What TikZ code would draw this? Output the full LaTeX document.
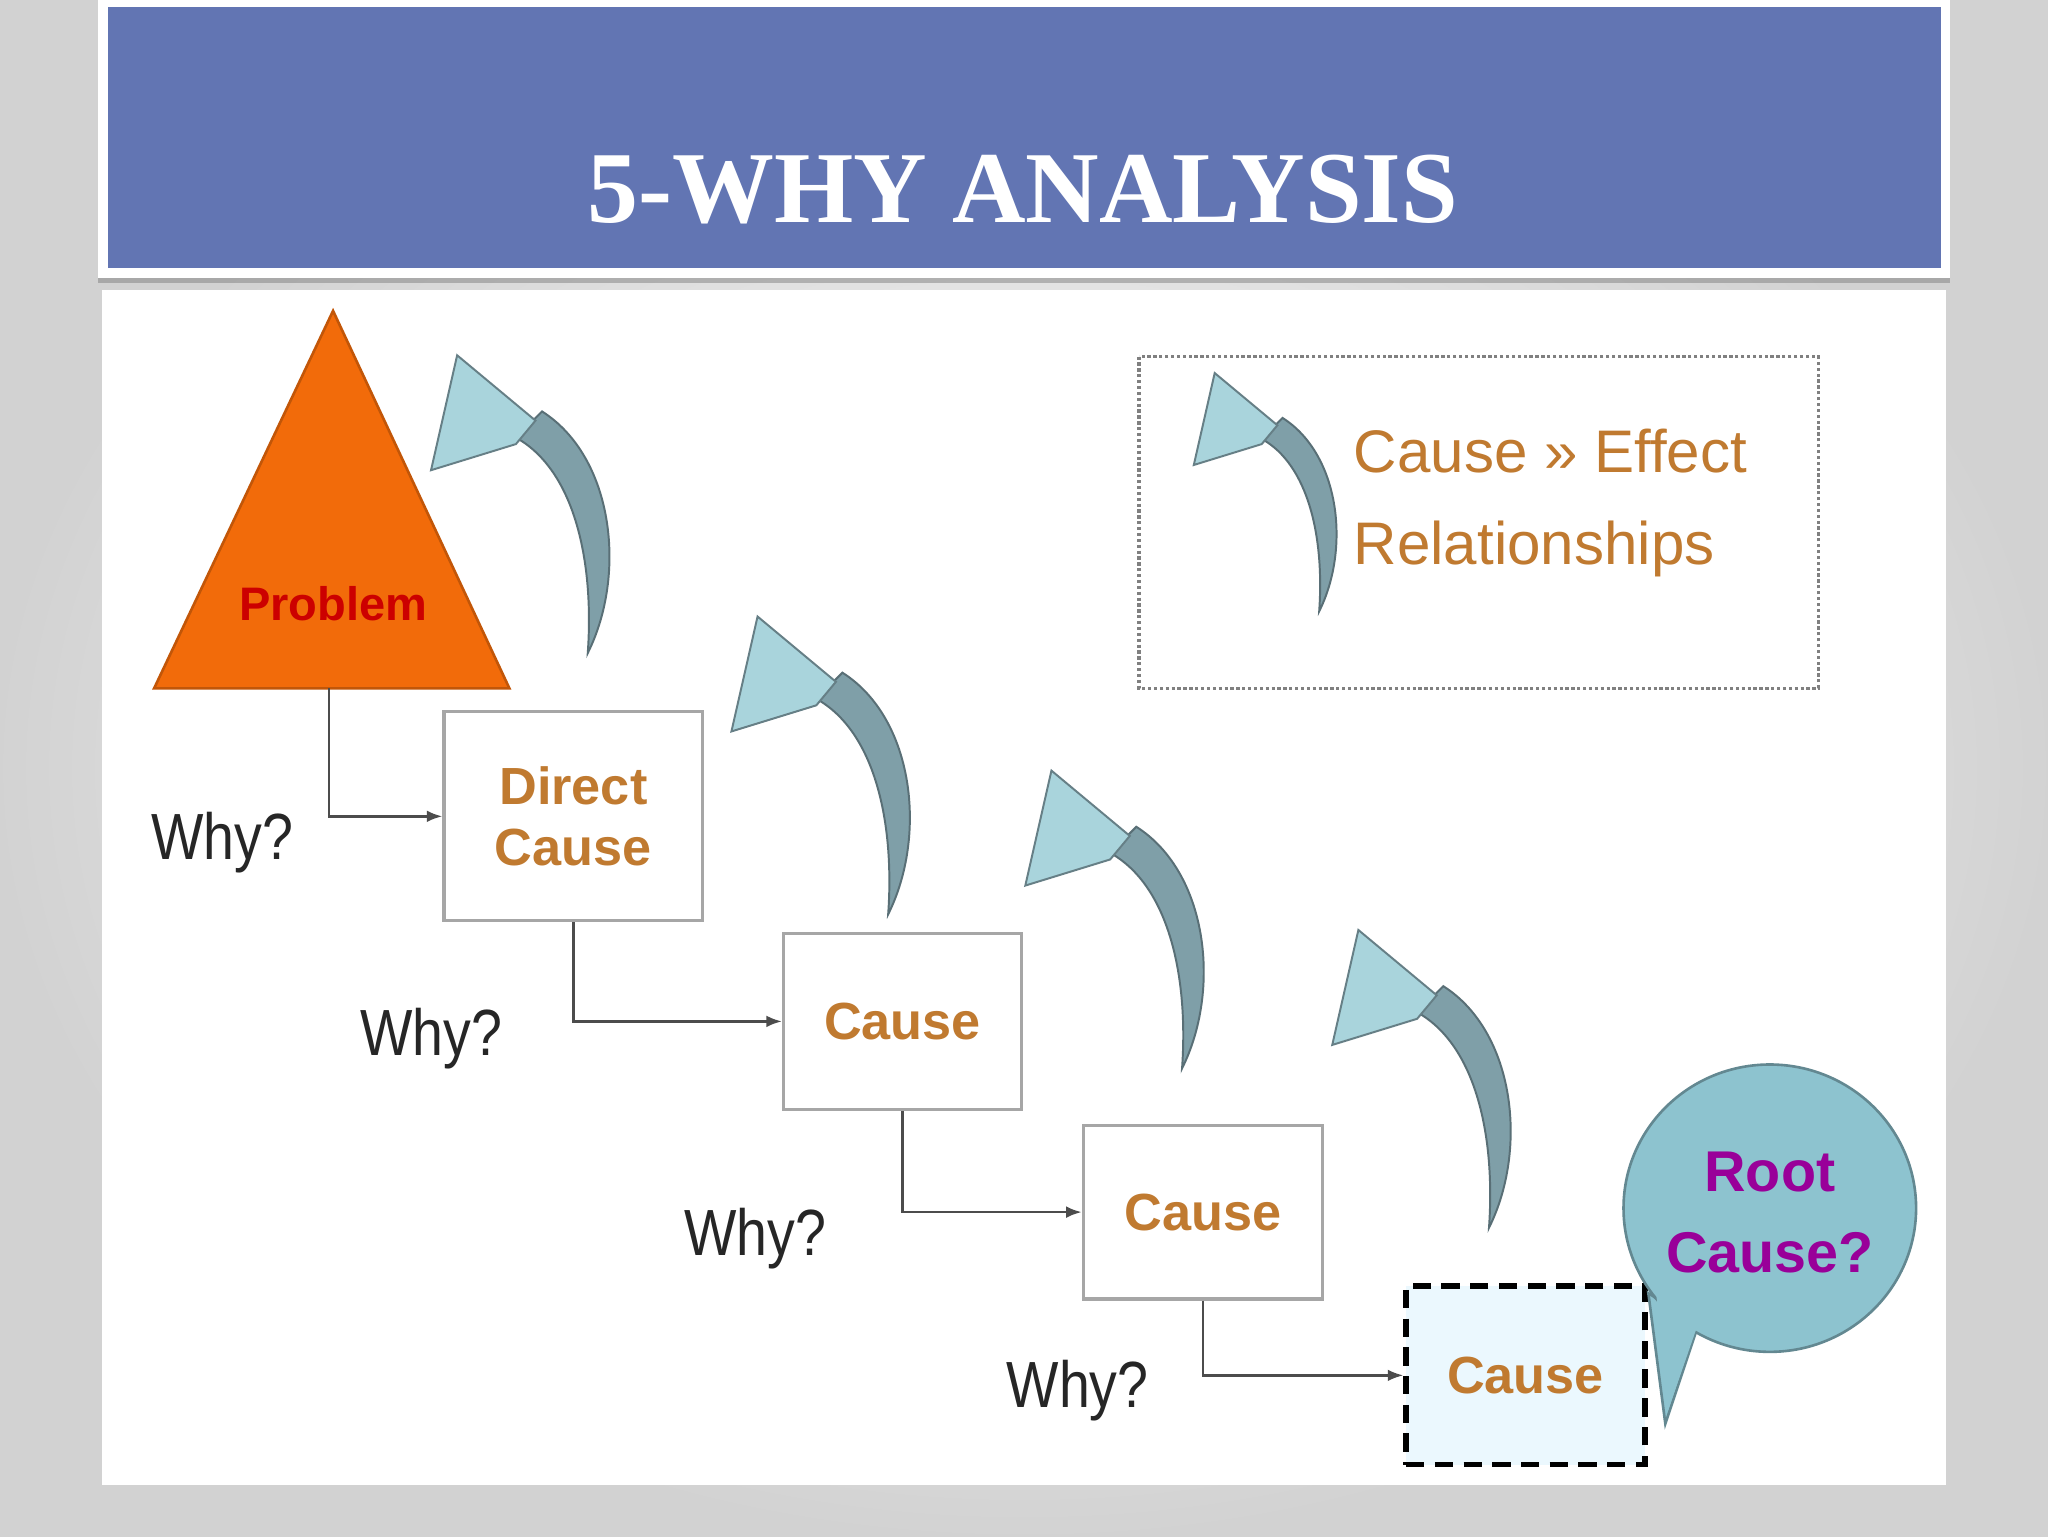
\documentclass[tikz,border=0pt]{standalone}
\usepackage{fontspec}
\setmainfont{Liberation Serif}
\setsansfont{Liberation Sans}
\usetikzlibrary{shapes.geometric,arrows.meta,shadows}
\definecolor{bluehdr}{HTML}{6275B3}
\definecolor{orng}{HTML}{F26B0A}
\definecolor{headc}{HTML}{A9D4DC}
\definecolor{bodyc}{HTML}{7F9FA8}
\definecolor{txtc}{HTML}{C07A30}
\definecolor{bubble}{HTML}{8DC3CF}
\tikzset{
  box/.style={draw=gray!70,line width=2.5pt,fill=white,align=center,font=\sffamily\fontsize{40}{46}\selectfont\bfseries,text=txtc},
  why/.style={font=\sffamily\fontsize{50}{60}\selectfont,text=black!85,xscale=0.85},
  conn/.style={draw=gray!60!black,line width=2pt,-{Latex[length=12pt,width=9pt]}},
  cearrow/.pic={
    \fill[bodyc,draw=bodyc!70!black,line width=1.5pt] (0,0) .. controls (30,-60) and (20,-150) .. (-35,-185) -- (-55,-165) .. controls (-10,-140) and (5,-70) .. (0,0) -- cycle;
    \fill[headc,draw=bodyc!80!black,line width=1.5pt] (-40,-178) -- (-100,-228) -- (-120,-140) -- (-55,-160) -- cycle;
  }
}
\begin{document}
\begin{tikzpicture}[x=1pt,y=-1pt]
\useasboundingbox (0,0) rectangle (1568,1176);
\shade[inner color=white,outer color=gray!35] (0,0) rectangle (1568,1176);
\fill[white,drop shadow={shadow xshift=0pt,shadow yshift=-4pt}] (75,0) rectangle (1493,213);
\fill[bluehdr] (83,5) rectangle (1486,205);
\node[text=white,font=\fontsize{78}{86}\selectfont\bfseries] (title) at (783,145) {5-WHY ANALYSIS};
\fill[white] (78,222) rectangle (1490,1137);
% legend
\draw[gray,dotted,line width=2.5pt] (872,273) rectangle (1392,527);
\pic[scale=0.8] at (1010,468) {cearrow};
\node[font=\sffamily\fontsize{46}{52}\selectfont,text=txtc,anchor=west] (l1) at (1033,345) {Cause » Effect};
\node[font=\sffamily\fontsize{46}{52}\selectfont,text=txtc,anchor=west] (l2) at (1033,420) {Relationships};
% triangle
\draw[fill=orng,draw=orng!80!black,line width=2pt] (255,238) -- (390,527) -- (118,527) -- cycle;
\node[text=red!80!black,font=\sffamily\fontsize{36}{40}\selectfont\bfseries] (prob) at (255,462) {Problem};
\coordinate (tb) at (252,527);
% boxes
\node[box,minimum width=198pt,minimum height=160pt] (dc) at (439,625) {Direct\\Cause};
\node[box,minimum width=182pt,minimum height=135pt] (c1) at (691,782) {Cause};
\node[box,minimum width=183pt,minimum height=133pt] (c2) at (921,928) {Cause};
\node[box,draw=black,dashed,dash pattern=on 14pt off 8pt,line width=4pt,fill=cyan!8,minimum width=183pt,minimum height=137pt] (c3) at (1168,1053) {Cause};
% connectors
\draw[conn] (tb) |- (dc.west);
\draw[conn] (dc.south) |- (c1.west);
\draw[conn] (c1.south) |- (c2.west);
\draw[conn] (c2.south) |- (c3.west);
\node[why] (w1) at (170,645) {Why?};
\node[why] (w2) at (330,795) {Why?};
\node[why] (w3) at (578,948) {Why?};
\node[why] (w4) at (825,1065) {Why?};
% curved arrows
\pic at (450,500) {cearrow};
\pic at (680,700) {cearrow};
\pic at (905,818) {cearrow};
\pic at (1140,940) {cearrow};
% bubble
\fill[bubble,draw=bubble!70!black,line width=2pt] (1300,1015) -- (1275,1090) -- (1262,990) -- cycle;
\node[ellipse,fill=bubble,draw=bubble!70!black,line width=2pt,minimum width=224pt,minimum height=220pt] (rc) at (1355,925) {};
\fill[bubble] (1302,1008) -- (1277,1080) -- (1268,990) -- cycle;
\node[align=center,text=violet!80!magenta,font=\sffamily\fontsize{44}{62}\selectfont\bfseries] (rct) at (1355,928) {Root\\Cause?};
\end{tikzpicture}
\end{document}
